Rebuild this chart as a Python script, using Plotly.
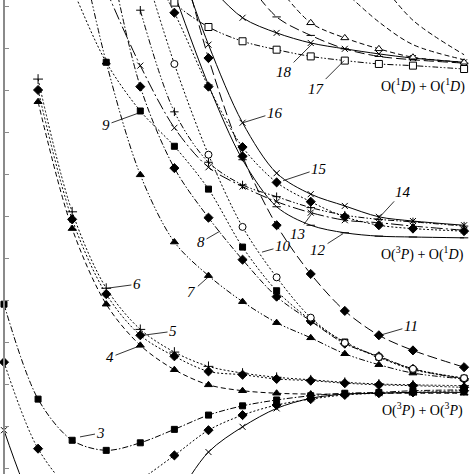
import plotly.graph_objects as go

# internuclear distance grid (angstrom) shared by all curves
R = [1.0, 1.1, 1.2, 1.3, 1.4, 1.5, 1.6, 1.7, 1.8, 1.9, 2.0, 2.1, 2.2, 2.35]

# potential energy curves, eV, each starts at R[start]
E1 = [-0.55, -1.56, -2.04, -2.15, -1.92, -1.38, -0.81, -0.51, -0.29, -0.17, -0.12, -0.11, -0.10, -0.10]
E2 = [0.26, -0.77, -1.26, -1.38, -1.14, -0.85, -0.55, -0.37, -0.25, -0.18, -0.13, -0.11, -0.10, -0.08]
E3 = [0.95, -0.18, -0.67, -0.79, -0.70, -0.54, -0.37, -0.26, -0.19, -0.14, -0.11, -0.10, -0.08, -0.07]
E4 = [3.36, 1.85, 0.95, 0.46, 0.17, -0.01, -0.08, -0.11, -0.12, -0.12, -0.11, -0.11, -0.11]
E5 = [3.50, 1.96, 1.07, 0.58, 0.33, 0.15, 0.11, 0.06, 0.04, 0.01, -0.01, -0.02, -0.04]
E6 = [3.63, 2.05, 1.14, 0.65, 0.38, 0.21, 0.13, 0.08, 0.05, 0.02, 0.00, -0.01, -0.02]
E7 = [5.64, 3.83, 2.49, 1.69, 1.29, 0.98, 0.73, 0.55, 0.36, 0.23, 0.13, 0.06]
E8 = [5.29, 3.54, 2.57, 1.98, 1.48, 1.04, 0.75, 0.48, 0.33, 0.18, 0.06]
E9 = [5.64, 4.71, 3.83, 3.25, 2.83, 2.32, 1.63, 1.11, 0.76, 0.50, 0.32, 0.17, 0.07]
E10 = [5.11, 3.81, 2.73, 1.87, 1.27, 0.79, 0.49, 0.32, 0.18, 0.07]
E11 = [5.40, 3.88, 2.71, 1.89, 1.31, 0.87, 0.58, 0.40, 0.20]
E12 = [4.65, 3.56, 2.67, 2.11, 1.89, 1.80, 1.76, 1.75, 1.74]
E13 = [4.69, 3.79, 3.05, 2.58, 2.35, 2.17, 2.04, 1.95, 1.92, 1.88, 1.83]
E14 = [4.45, 3.24, 2.64, 2.37, 2.23, 2.10, 2.01, 1.96, 1.93, 1.88]
E15 = [5.17, 4.42, 3.54, 2.82, 2.40, 2.17, 1.99, 1.89, 1.85, 1.82]
E16 = [5.17, 4.04, 3.11, 2.51, 2.26, 2.12, 1.99, 1.94, 1.89]
E17 = [5.11, 4.54, 4.25, 4.08, 3.98, 3.90, 3.85, 3.81, 3.79, 3.75]
E18 = [4.75, 4.36, 4.18, 4.06, 3.99, 3.93, 3.88, 3.83]
EA = [4.87, 4.37, 4.15, 3.99, 3.90, 3.86, 3.82]
EB = [4.75, 4.30, 4.12, 3.99, 3.89, 3.83]
EC = [4.67, 4.31, 4.04, 3.86]
ED = [4.81, 4.33, 3.92]

DOT = "2px,2px"
DASH = "5px,3px"
LONGDASH = "10px,4px"
DASHDOT = "6px,2px,1.5px,2px"
DASHDOTDOT = "6px,2px,1.5px,2px,1.5px,2px"
LONGDASHDOT = "12px,3px,2px,3px"

# (energies, first R index, dash, marker symbol, marker size)
curves = [
    (E1, 0, "solid", "x-thin", 6),
    (E2, 0, DOT, "diamond", 7),
    (E3, 0, DASHDOT, "square", 6),
    (E4, 1, DASH, "triangle-up", 7),
    (E5, 1, DOT, "diamond", 7),
    (E6, 1, DOT, "cross-thin", 7),
    (E7, 2, DASHDOTDOT, "triangle-up", 7),
    (E8, 3, DASHDOT, "diamond", 7),
    (E9, 1, DOT, "square", 6),
    (E10, 4, DOT, "circle-open", 7),
    (E11, 5, LONGDASH, "diamond", 7),
    (E12, 5, "solid", "line-ew", 6),
    (E13, 3, LONGDASHDOT, "x-thin", 6),
    (E14, 4, DASHDOTDOT, "cross-thin", 6),
    (E15, 4, DOT, "diamond", 7),
    (E16, 5, "solid", "x-thin", 6),
    (E17, 4, DASHDOTDOT, "square-open", 7),
    (E18, 6, "solid", "x-thin", 6),
    (EA, 7, LONGDASH, "line-ew", 6),
    (EB, 8, DASH, "triangle-up-open", 7),
    (EC, 10, DASH, None, 0),
    (ED, 11, DASH, None, 0),
]

fig = go.Figure()
for ys, start, dash, sym, size in curves:
    xs = R[start:start + len(ys)]
    marker = dict(color="black", size=size, symbol=sym or "circle",
                  line=dict(color="black", width=1))
    if sym in ("circle-open", "square-open", "triangle-up-open"):
        marker["color"] = "white"
        marker["symbol"] = sym.replace("-open", "")
    fig.add_trace(go.Scatter(
        x=xs, y=ys, mode="lines+markers" if sym else "lines",
        line=dict(color="black", width=1, dash=dash, shape="spline", smoothing=0.9),
        marker=marker, showlegend=False, hoverinfo="skip",
    ))

# curve labels: number, point on curve (R, E), text offset in px
labels = [
    ("3", 1.223, -0.63, 21, -4),
    ("4", 1.402, 0.46, -31, 12),
    ("5", 1.408, 0.58, 30, -4),
    ("6", 1.302, 1.14, 30, -4),
    ("7", 1.604, 1.29, -18, 16),
    ("8", 1.634, 1.82, -19, 11),
    ("9", 1.405, 3.24, -36, 13),
    ("10", 1.757, 1.57, 21, -6),
    ("11", 2.103, 0.58, 31, -9),
    ("12", 1.995, 1.79, -25, 16),
    ("13", 1.907, 2.05, -16, 22),
    ("14", 2.103, 1.99, 23, -25),
    ("15", 1.819, 2.42, 36, -12),
    ("16", 1.701, 3.11, 32, -10),
    ("17", 1.998, 3.85, -28, 28),
    ("18", 1.907, 4.06, -29, 29),
]
for txt, x, y, ax, ay in labels:
    fig.add_annotation(
        x=x, y=y, ax=ax, ay=ay, text=f"<i>{txt}</i>", showarrow=True,
        arrowhead=0, arrowwidth=0.8, arrowcolor="black", standoff=0,
        font=dict(family="Liberation Serif", size=15, color="black"),
    )

limits = [
    ("O(<sup>1</sup><i>D</i>) + O(<sup>1</sup><i>D</i>)", 3.55),
    ("O(<sup>3</sup><i>P</i>) + O(<sup>1</sup><i>D</i>)", 1.55),
    ("O(<sup>3</sup><i>P</i>) + O(<sup>3</sup><i>P</i>)", -0.30),
]
for txt, y in limits:
    fig.add_annotation(
        x=2.229, y=y, text=txt, showarrow=False,
        font=dict(family="Liberation Serif", size=14, color="black"),
    )

fig.update_layout(
    width=474, height=474, autosize=False,
    margin=dict(l=0, r=0, t=0, b=0),
    paper_bgcolor="white", plot_bgcolor="white",
)
fig.update_xaxes(range=[0.9883, 2.3791], visible=False, showgrid=False)
fig.update_yaxes(
    range=[-1.0714, 4.5714], showgrid=False, zeroline=False,
    showline=True, linecolor="#8a8a8a", linewidth=1.5,
    ticks="inside", ticklen=4, tickcolor="#8a8a8a",
    tick0=0, dtick=0.5, showticklabels=False,
    anchor="free", position=0.0084,
)

# page body margin would shift the figure off the 474px window
fig.write_html("out.html", config={"displayModeBar": False},
               post_script="document.body.style.margin='0';")
